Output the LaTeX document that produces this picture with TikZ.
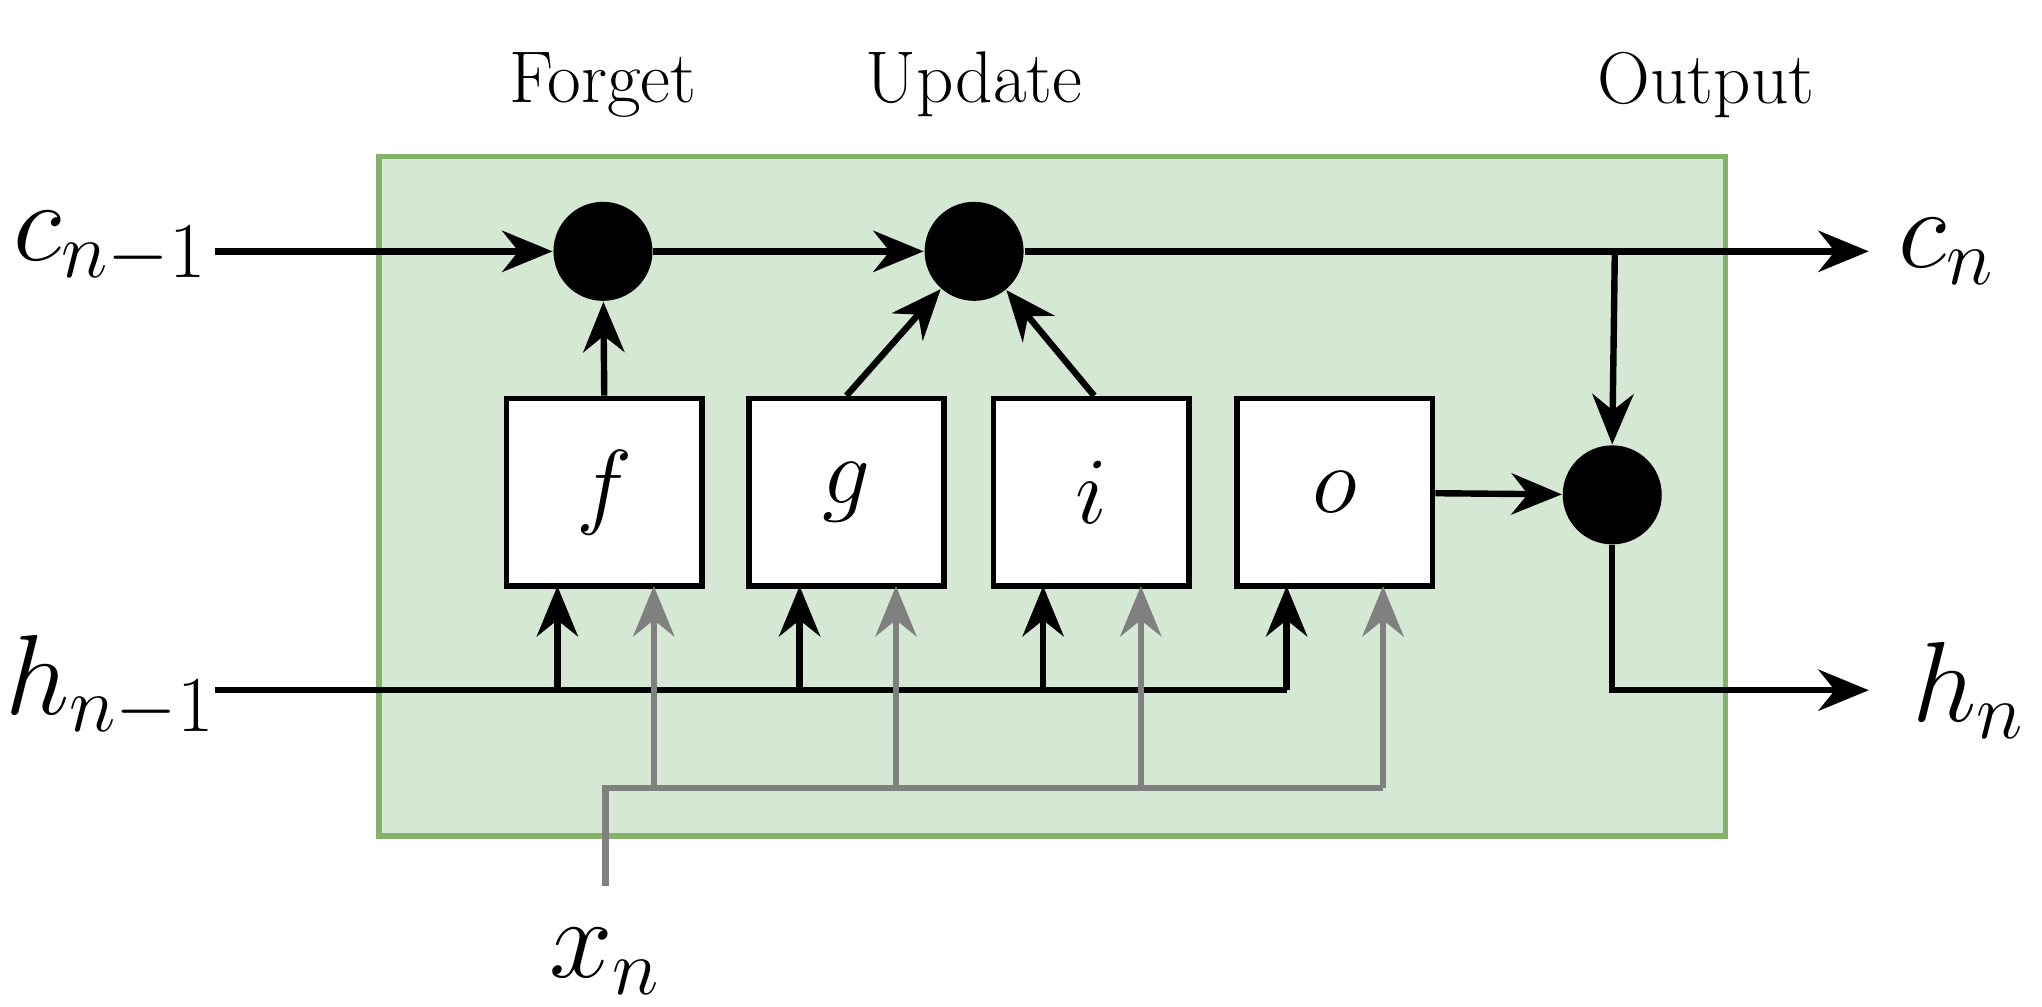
\documentclass[tikz,border=0pt]{standalone}
\usetikzlibrary{arrows.meta}
\definecolor{bgG}{HTML}{D5E8D4}\definecolor{bdG}{HTML}{82B366}\definecolor{gr}{HTML}{808080}
\begin{document}
\begin{tikzpicture}[x=0.01cm,y=-0.01cm,
 ar/.style={line width=1.4pt,-{Stealth[length=11pt,width=9pt]}},
 gar/.style={ar,draw=gr},
 dot/.style={circle,fill=black,minimum size=0.76cm,inner sep=0},
 box/.style={draw,line width=1.2pt,fill=white,minimum width=1.5cm,minimum height=1.44cm,font=\fontsize{22}{26}\selectfont},
 lab/.style={font=\fontsize{16}{19}\selectfont},
 ml/.style={font=\fontsize{24}{28}\selectfont}]
\useasboundingbox (0,0) rectangle (1568,773);
\draw[bdG,fill=bgG,line width=1.2pt] (291,120) rectangle (1325,642);
\node[dot] (fc) at (463,193) {};
\node[dot] (uc) at (748,193) {};
\node[dot] (oc) at (1238,380) {};
\node[box] (f) at (464,378) {$f$};
\node[box] (g) at (650,378) {$g$};
\node[box] (i) at (838,378) {$i$};
\node[box] (o) at (1025,378) {$o$};
\node[lab] (lf) at (463,65) {Forget};
\node[lab] (lu) at (748,65) {Update};
\node[lab] (lo) at (1310,65) {Output};
\node[ml] (cp) at (85,190) {$c_{n-1}$};
\node[ml] (hp) at (85,527) {$h_{n-1}$};
\node[ml] (cn) at (1495,193) {$c_n$};
\node[ml] (hn) at (1512,530) {$h_n$};
\node[ml] (xn) at (465,738) {$x_n$};
\coordinate (cs) at (165,193); \coordinate (ce) at (1435,193);
\coordinate (br) at (1240,193);
\coordinate (hs) at (165,530); \coordinate (he) at (1435,530);
\coordinate (xs) at (465,680);
\draw[ar] (cs) -- (fc);
\draw[ar] (fc) -- (uc);
\draw[ar] (uc) -- (ce);
\draw[ar] (br) -- (oc.north);
\draw[ar] (f.north) -- (fc);
\draw[ar] (g.north) -- (uc);
\draw[ar] (i.north east) ++(-75,0) -- (uc);
\draw[ar] (o) -- (oc);
\draw[ar] (oc) |- (he);
\draw[line width=1.4pt] (hs) -- (988,530);
\foreach \x/\n in {428/f,614/g,801/i,988/o} \draw[ar] (\x,530) -- (\x,450);
\draw[gr,line width=1.4pt] (xs) -- (465,605) -- (1062,605);
\foreach \x in {502,688,876,1062} \draw[gar] (\x,605) -- (\x,450);
\end{tikzpicture}
\end{document}
